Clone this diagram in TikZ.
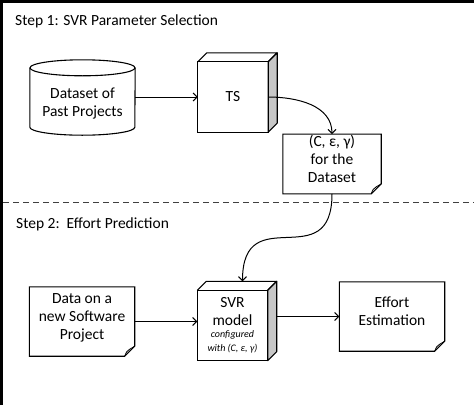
\documentclass[tikz,border=0pt]{standalone}
\usepackage{fontspec}
\setmainfont{Carlito}
\usetikzlibrary{arrows.meta}

\begin{document}
\begin{tikzpicture}[
    x=1pt, y=-1pt,
    every node/.style={font=\fontsize{15.5}{18}\selectfont, align=center, inner sep=1pt},
    >={Straight Barb[length=4pt,width=8pt]},
    arr/.style={->, line width=1pt},
    sep/.style={line width=0.9pt, black!75, dash pattern=on 6pt off 4pt},
    small/.style={font=\fontsize{10}{12}\selectfont\itshape},
    doc/.style={minimum width=105pt, minimum height=69pt, text depth=10pt,
      append after command={\pgfextra{
        \draw[line width=1.1pt]
          (\tikzlastnode.north west) -- (\tikzlastnode.north east)
          -- ([yshift=10pt]\tikzlastnode.south east)
          -- ([xshift=-10pt]\tikzlastnode.south east)
          -- (\tikzlastnode.south west) -- cycle;
        \draw[line width=0.8pt]
          ([xshift=-10pt]\tikzlastnode.south east)
          .. controls ([shift={(-8pt,5pt)}]\tikzlastnode.south east) .. ([shift={(-5pt,7pt)}]\tikzlastnode.south east)
          -- ([yshift=10pt]\tikzlastnode.south east);
      }}},
    cube/.style={minimum width=70pt, minimum height=70pt,
      append after command={\pgfextra{
        \draw[line width=1.1pt] (\tikzlastnode.north west) rectangle (\tikzlastnode.south east);
        \draw[line width=1.1pt, line join=round]
          (\tikzlastnode.north west) -- ([shift={(9pt,9pt)}]\tikzlastnode.north west)
          -- ([shift={(9pt,9pt)}]\tikzlastnode.north east) -- (\tikzlastnode.north east);
        \draw[line width=1.1pt, line join=round, fill=black!22]
          (\tikzlastnode.north east) -- ([shift={(9pt,9pt)}]\tikzlastnode.north east)
          -- ([shift={(9pt,9pt)}]\tikzlastnode.south east) -- (\tikzlastnode.south east) -- cycle;
      }}},
    cyl/.style={minimum width=105pt, minimum height=75pt,
      append after command={\pgfextra{
        \draw[line width=1.1pt]
          ([yshift=-2pt]\tikzlastnode.north west) -- ([yshift=14pt]\tikzlastnode.south west)
          arc[start angle=180, end angle=360, x radius=52.5pt, y radius=8pt]
          -- ([yshift=-2pt]\tikzlastnode.north east);
        \draw[line width=1.1pt] ([yshift=-2pt]\tikzlastnode.north) ellipse [x radius=52.5pt, y radius=8pt];
      }}}
  ]
  \useasboundingbox (0,0) rectangle (474,405);
  \draw[line width=3pt] (1.5,405) -- (1.5,1.5) -- (474,1.5);

  \node[anchor=base west] (step1) at (14,25) {Step 1: SVR Parameter Selection};
  \node[cyl] (past) at (82.5,103.5) {Dataset of\\Past Projects};
  \node[cube] (ts) at (233,97) {TS};
  \node[doc, minimum width=98pt, minimum height=58pt] (params) at (332,164) {(C, ε, γ)\\for the\\Dataset};

  \draw[sep] (3,202) -- (474,202);

  \node[anchor=base west] (step2) at (15,228) {Step 2:\ \ Effort Prediction};
  \node[doc] (newdata) at (82,321.5) {Data on a\\new Software\\Project};
  \node[cube] (svr) at (232.5,325.5) {SVR\\model\\[-6pt]{\fontsize{10}{12}\selectfont\itshape configured}\\[-4pt]{\fontsize{10}{12}\selectfont\itshape with (C, ε, γ)}};
  \node[doc] (effort) at (392,316.5) {Effort\\Estimation};

  \coordinate (svrtop) at ([shift={(10pt,9pt)}]svr.north);
  \coordinate (svrside) at ([xshift=9pt]svr.east);

  \draw[arr] (past.east |- ts.west) -- (ts.west);
  \draw[arr] (ts.east) to[out=0, in=90] (params.north);
  \draw[arr] (params.south) to[out=-90, in=90, looseness=1.7] (svrtop);
  \draw[arr] (newdata.east) -- (newdata.east -| svr.west);
  \draw[arr] (svrside |- effort.west) -- (effort.west);
\end{tikzpicture}
\end{document}
